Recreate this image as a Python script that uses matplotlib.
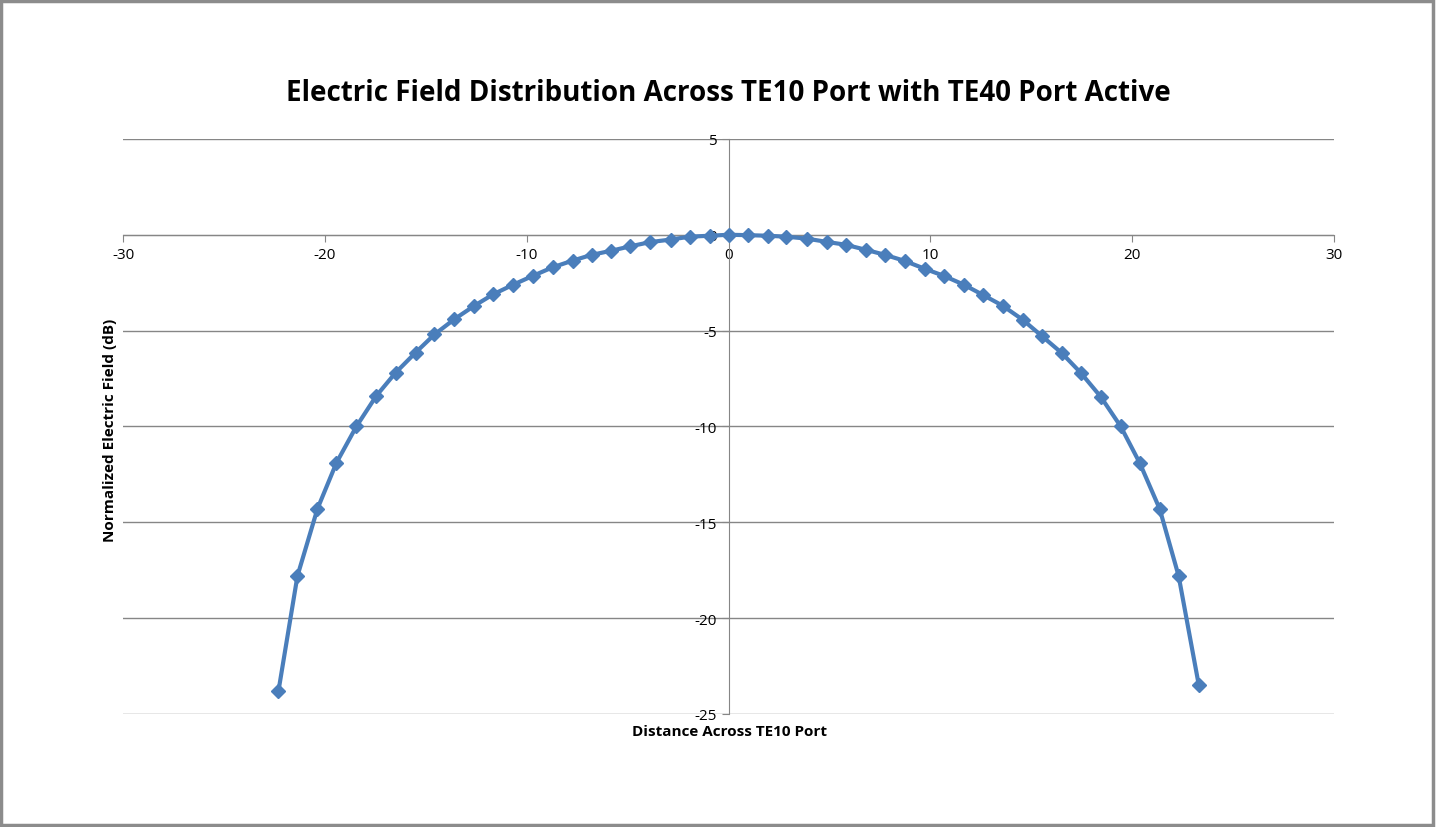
import matplotlib.pyplot as plt
from matplotlib.patches import Rectangle

distance = [-22.3, -21.36, -20.37, -19.43, -18.44, -17.45, -16.5, -15.51, -14.57, -13.58,
            -12.59, -11.65, -10.66, -9.71, -8.72, -7.73, -6.79, -5.8, -4.86, -3.87,
            -2.87, -1.93, -0.94, 0.0,
            0.94, 1.93, 2.87, 3.87, 4.86, 5.8, 6.79, 7.73, 8.72, 9.71,
            10.66, 11.65, 12.59, 13.58, 14.57, 15.51, 16.5, 17.45, 18.44, 19.43,
            20.37, 21.36, 22.3, 23.3]
field_db = [-23.8, -17.8, -14.3, -11.9, -10.0, -8.4, -7.2, -6.15, -5.2, -4.4,
            -3.7, -3.1, -2.6, -2.15, -1.7, -1.35, -1.05, -0.83, -0.6, -0.38,
            -0.25, -0.1, -0.05, 0.0,
            -0.02, -0.05, -0.1, -0.2, -0.37, -0.52, -0.78, -1.04, -1.36, -1.77,
            -2.14, -2.6, -3.13, -3.7, -4.43, -5.27, -6.16, -7.2, -8.45, -10.0,
            -11.9, -14.3, -17.8, -23.5]

plt.rcParams['font.family'] = ['Open Sans', 'DejaVu Sans']
plt.rcParams['axes.unicode_minus'] = False

fig = plt.figure(figsize=(14.36, 8.28), dpi=100)
fig.patches.append(Rectangle((0.001, 0.002), 0.997, 0.995, transform=fig.transFigure,
                             fill=False, edgecolor="#8c8c8c", linewidth=2.5))
ax = fig.add_axes([0.0857, 0.1365, 0.8433, 0.6945])

ax.plot(distance, field_db, color="#4a7ebb", linewidth=3, marker="D",
        markersize=7.5, zorder=3)

ax.set_xlim(-30, 30)
ax.set_ylim(-25, 5)
ax.set_xticks(range(-30, 31, 10))
ax.set_yticks(range(-25, 6, 5))
ax.grid(axis="y", color="#868686", linewidth=1)
for gl in ax.get_ygridlines():
    gl.set_clip_on(False)
ax.spines["left"].set_position(("data", 0))
ax.spines["bottom"].set_position(("data", 0))
ax.spines["top"].set_visible(False)
ax.spines["right"].set_visible(False)
for s in ("left", "bottom"):
    ax.spines[s].set_color("#868686")
ax.tick_params(direction="out", length=5, color="#868686", labelsize=11)

ax.set_title("Electric Field Distribution Across TE10 Port with TE40 Port Active",
             fontsize=20, fontweight="bold", pad=28)
fig.text(0.0765, 0.48, "Normalized Electric Field (dB)", rotation=90,
         ha="center", va="center", fontsize=11, fontweight="bold")
fig.text(0.508, 0.116, "Distance Across TE10 Port", ha="center", va="center",
         fontsize=11, fontweight="bold")

fig.savefig("out.png", dpi=100)
